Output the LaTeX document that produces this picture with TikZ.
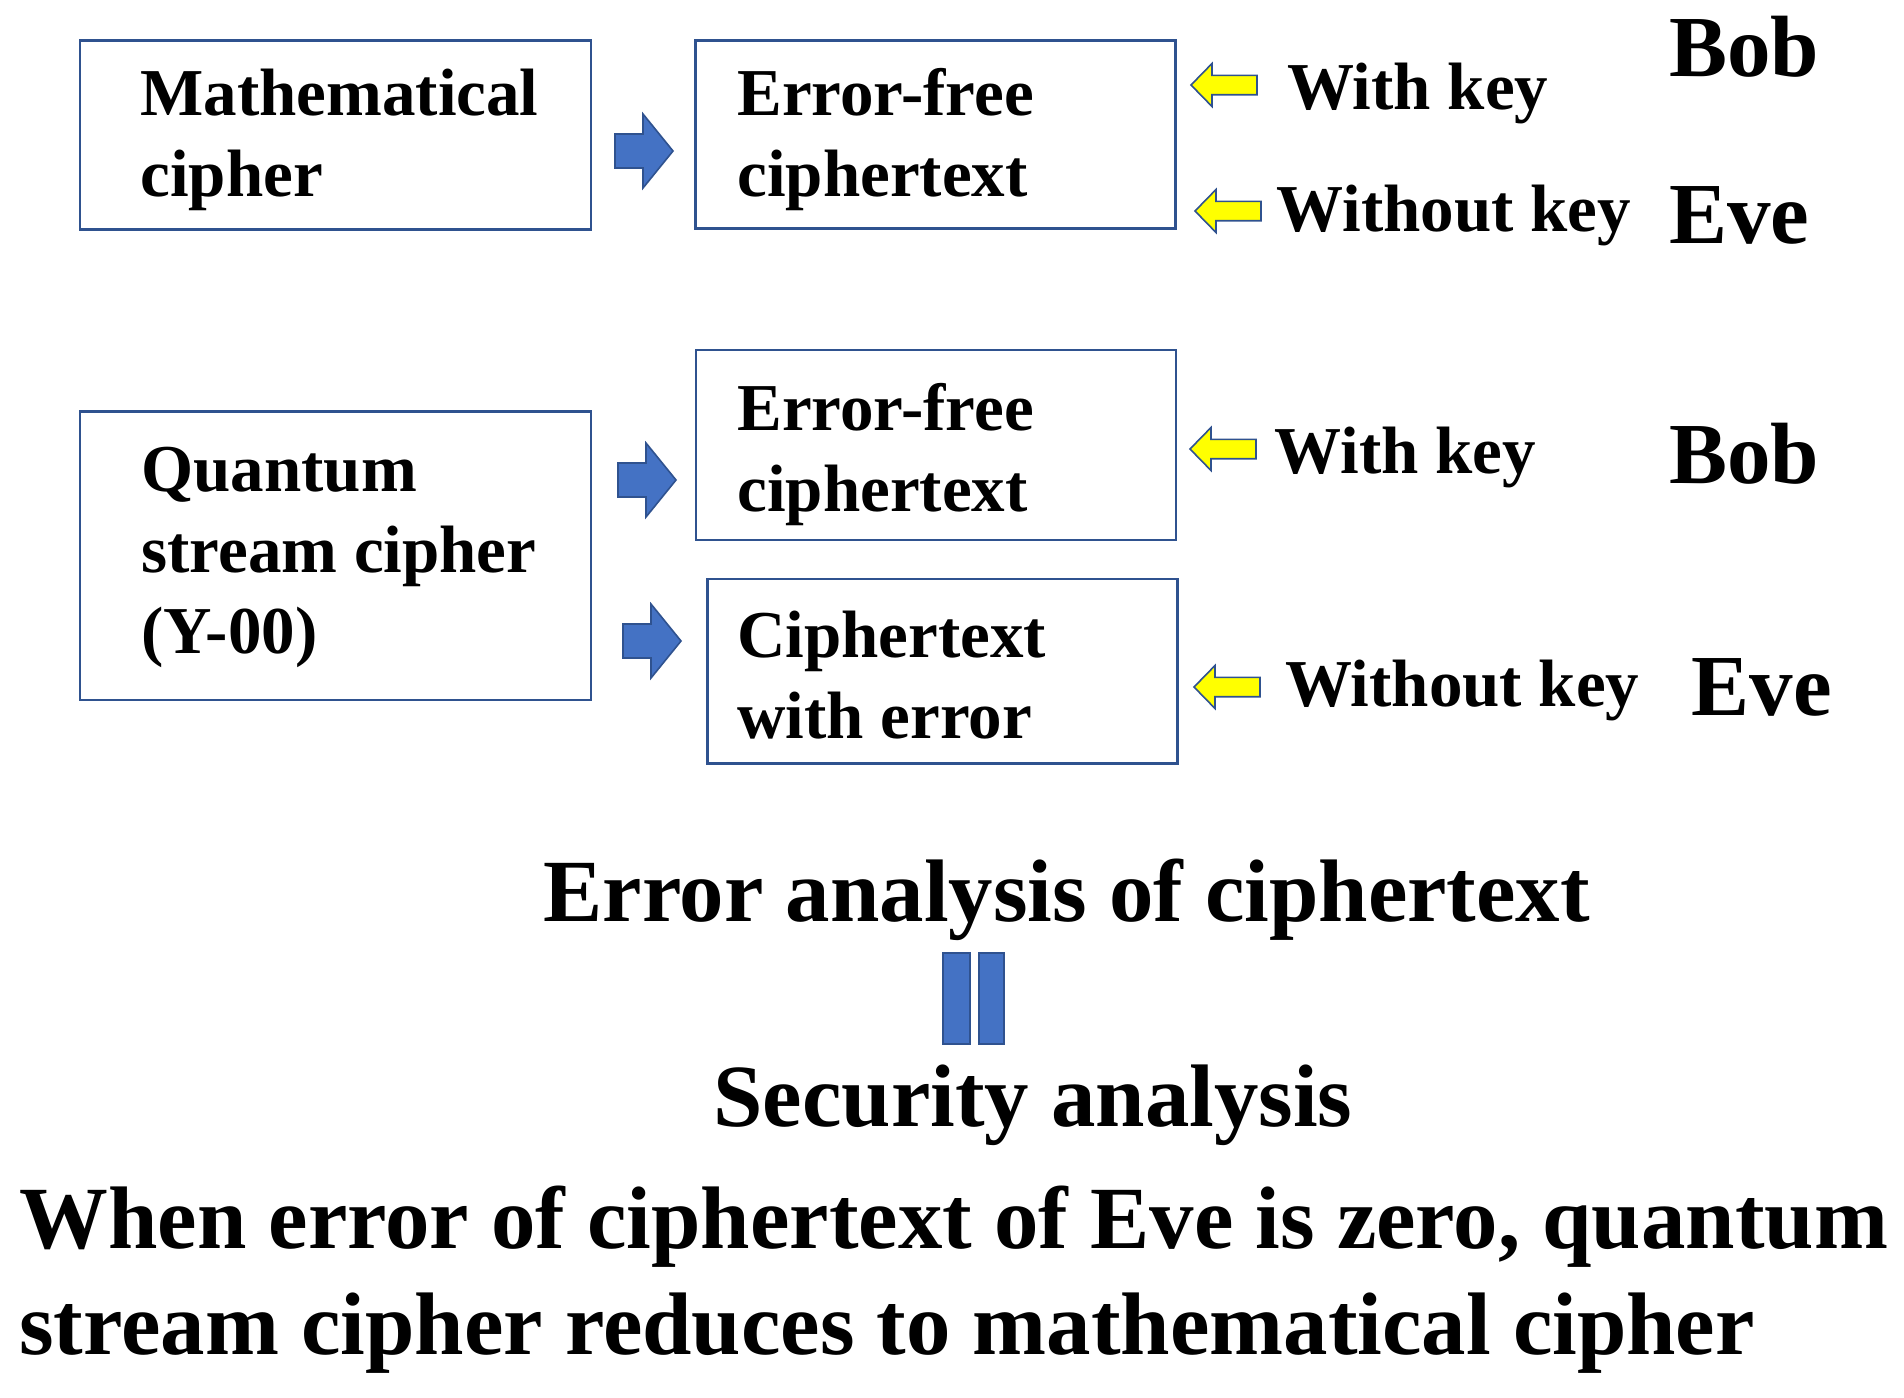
\documentclass[tikz,border=0pt]{standalone}
\usepackage{fontspec}
\setmainfont{Liberation Serif}
\usepackage{tikz}
\definecolor{boxline}{RGB}{47,82,143}
\definecolor{arrowblue}{RGB}{68,114,196}
\definecolor{arrowyellow}{RGB}{255,255,0}

\begin{document}
\begin{tikzpicture}[x=0.5pt,y=0.5pt,yscale=-1,xscale=1,
  cbox/.style={draw=boxline,line width=1.4pt,inner sep=0pt},
  ctext/.style={font=\fontsize{33.5}{40.5}\selectfont\bfseries,align=left,inner sep=0pt,anchor=base west},
  who/.style={font=\fontsize{43.5}{52}\selectfont\bfseries,inner sep=0pt,anchor=base west},
  bigtext/.style={font=\fontsize{44.4}{52.8}\selectfont\bfseries,align=left,inner sep=0pt,anchor=base west},
  bluearrow/.style={draw=boxline,fill=arrowblue,line width=0.8pt,line join=miter},
  keyarrow/.style={draw=boxline,fill=arrowyellow,line width=0.8pt,line join=miter},
  eqbar/.style={draw=boxline,fill=arrowblue,line width=0.8pt}]
\useasboundingbox (0,0) rectangle (1904,1397);

%Shape: Rectangle [mathematical cipher]
\node[cbox,minimum width=255.5pt,minimum height=94.5pt] (mathbox) at (335.5,134.6) {};
%Shape: Rectangle [error-free, top]
\node[cbox,minimum width=239.9pt,minimum height=94.1pt] (freeboxa) at (935.6,134.2) {};
%Shape: Rectangle [quantum stream cipher]
\node[cbox,minimum width=255.5pt,minimum height=144.2pt] (quantbox) at (335.5,555.7) {};
%Shape: Rectangle [error-free, middle]
\node[cbox,minimum width=240pt,minimum height=95pt] (freeboxb) at (936,445) {};
%Shape: Rectangle [ciphertext with error]
\node[cbox,minimum width=235.2pt,minimum height=92.2pt] (errbox) at (942.5,671.2) {};

%Shape: Right Arrow
\draw[bluearrow,shift={(673,151)}] (0,0) -- (-30,-37) -- (-30,-17) -- (-58,-17) -- (-58,17) -- (-30,17) -- (-30,37) -- cycle;
%Shape: Right Arrow
\draw[bluearrow,shift={(676,480)}] (0,0) -- (-30,-37) -- (-30,-17) -- (-58,-17) -- (-58,17) -- (-30,17) -- (-30,37) -- cycle;
%Shape: Right Arrow
\draw[bluearrow,shift={(681,641)}] (0,0) -- (-30,-37) -- (-30,-17) -- (-58,-17) -- (-58,17) -- (-30,17) -- (-30,37) -- cycle;

%Shape: Left Arrow
\draw[keyarrow,shift={(1191,85)}] (0,0) -- (21,-21.5) -- (21,-9.7) -- (66,-9.7) -- (66,9.7) -- (21,9.7) -- (21,21.5) -- cycle;
%Shape: Left Arrow
\draw[keyarrow,shift={(1195,211)}] (0,0) -- (21,-21.5) -- (21,-9.7) -- (66,-9.7) -- (66,9.7) -- (21,9.7) -- (21,21.5) -- cycle;
%Shape: Left Arrow
\draw[keyarrow,shift={(1190,449)}] (0,0) -- (21,-21.5) -- (21,-9.7) -- (66,-9.7) -- (66,9.7) -- (21,9.7) -- (21,21.5) -- cycle;
%Shape: Left Arrow
\draw[keyarrow,shift={(1194,687)}] (0,0) -- (21,-21.5) -- (21,-9.7) -- (66,-9.7) -- (66,9.7) -- (21,9.7) -- (21,21.5) -- cycle;

%Shape: Equal sign
\draw[eqbar] (943,953) rectangle (970,1044);
\draw[eqbar] (979,953) rectangle (1004,1044);

% Text Node
\node[ctext] (mathtxt) at (140,196.7) {Mathematical\\cipher};
% Text Node
\node[ctext] (freetxta) at (737,196.7) {Error-free\\ciphertext};
% Text Node
\node[ctext] (quanttxt) at (141,653.3) {Quantum\\stream cipher\\(Y-00)};
% Text Node
\node[ctext] (freetxtb) at (737,511.7) {Error-free\\ciphertext};
% Text Node
\node[ctext] (errtxt) at (737,738.3) {Ciphertext\\with error};

% Text Node
\node[ctext] (keya) at (1286.7,109.3) {With key};
% Text Node
\node[ctext] (nokeya) at (1276.4,231.7) {Without key};
% Text Node
\node[who] (boba) at (1668.6,76) {Bob};
% Text Node
\node[who] (evea) at (1668.6,243.3) {Eve};
% Text Node
\node[ctext] (keyb) at (1274.4,473.3) {With key};
% Text Node
\node[who] (bobb) at (1668.6,483.3) {Bob};
% Text Node
\node[ctext] (nokeyb) at (1284.6,706.7) {Without key};
% Text Node
\node[who] (eveb) at (1691.2,715) {Eve};

% Text Node
\node[bigtext] (errana) at (543,921) {Error analysis of ciphertext};
% Text Node
\node[bigtext] (secana) at (713,1126.5) {Security analysis};
% Text Node
\node[bigtext] (summary) at (19,1354) {When error of ciphertext of Eve is zero, quantum\\stream cipher reduces to mathematical cipher};

\end{tikzpicture}
\end{document}
